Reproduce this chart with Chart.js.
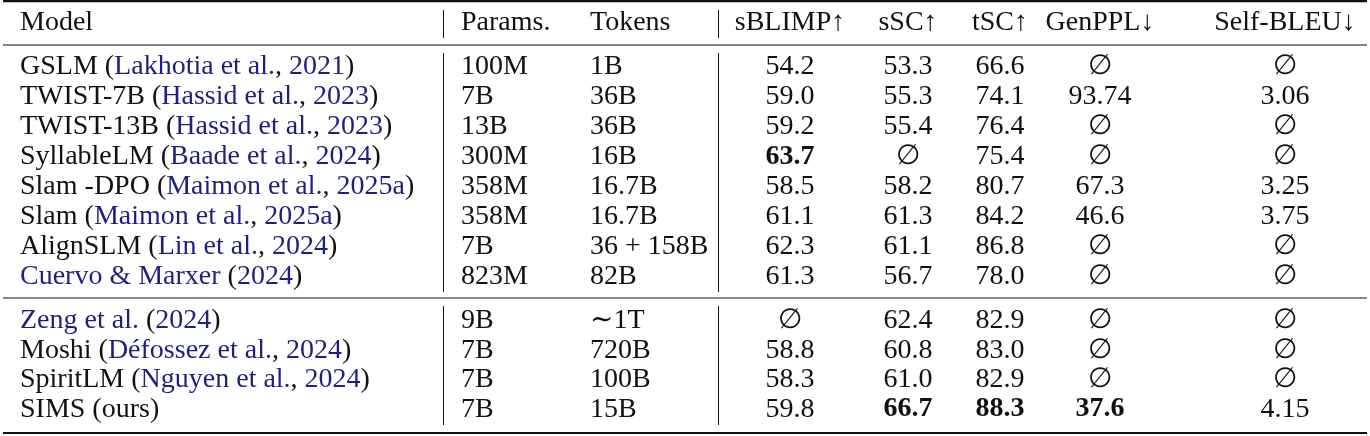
<!DOCTYPE html>
<html>
<head>
<meta charset="utf-8">
<script src="https://cdn.jsdelivr.net/npm/chart.js@4"></script>
<style>
  html, body { margin: 0; padding: 0; background: #fff; }
  #wrap { width: 1370px; height: 436px; }
</style>
</head>
<body>
<div id="wrap"><canvas id="tbl"></canvas></div>
<script>
// Table content
const headers = ['Model', 'Params.', 'Tokens', 'sBLIMP↑', 'sSC↑', 'tSC↑', 'GenPPL↓', 'Self-BLEU↓'];

// model name segments: [text, isCitation]
const models = [
    [['GSLM (', 0], ['Lakhotia et al.', 1], [', ', 0], ['2021', 1], [')', 0]],
    [['TWIST-7B (', 0], ['Hassid et al.', 1], [', ', 0], ['2023', 1], [')', 0]],
    [['TWIST-13B (', 0], ['Hassid et al.', 1], [', ', 0], ['2023', 1], [')', 0]],
    [['SyllableLM (', 0], ['Baade et al.', 1], [', ', 0], ['2024', 1], [')', 0]],
    [['Slam -DPO (', 0], ['Maimon et al.', 1], [', ', 0], ['2025a', 1], [')', 0]],
    [['Slam (', 0], ['Maimon et al.', 1], [', ', 0], ['2025a', 1], [')', 0]],
    [['AlignSLM (', 0], ['Lin et al.', 1], [', ', 0], ['2024', 1], [')', 0]],
    [['Cuervo & Marxer', 1], [' (', 0], ['2024', 1], [')', 0]],
    [['Zeng et al.', 1], [' (', 0], ['2024', 1], [')', 0]],
    [['Moshi (', 0], ['Défossez et al.', 1], [', ', 0], ['2024', 1], [')', 0]],
    [['SpiritLM (', 0], ['Nguyen et al.', 1], [', ', 0], ['2024', 1], [')', 0]],
    [['SIMS (ours)', 0]]
];

const params = ['100M', '7B', '13B', '300M', '358M', '358M', '7B', '823M', '9B', '7B', '7B', '7B'];
const tokens = ['1B', '36B', '36B', '16B', '16.7B', '16.7B', '36 + 158B', '82B', '∼1T', '720B', '100B', '15B'];
const sBLIMP = ['54.2', '59.0', '59.2', '63.7', '58.5', '61.1', '62.3', '61.3', '∅', '58.8', '58.3', '59.8'];
const sSC = ['53.3', '55.3', '55.4', '∅', '58.2', '61.3', '61.1', '56.7', '62.4', '60.8', '61.0', '66.7'];
const tSC = ['66.6', '74.1', '76.4', '75.4', '80.7', '84.2', '86.8', '78.0', '82.9', '83.0', '82.9', '88.3'];
const genPPL = ['∅', '93.74', '∅', '∅', '67.3', '46.6', '∅', '∅', '∅', '∅', '∅', '37.6'];
const selfBLEU = ['∅', '3.06', '∅', '∅', '3.25', '3.75', '∅', '∅', '∅', '∅', '∅', '4.15'];

// bold cells: [row, column]
const boldCells = [[3, 3], [11, 4], [11, 5], [11, 6]];

// Layout (pixels in the 1370x436 space)
const serif = '"Liberation Serif", "DejaVu Serif", serif';
const fontSize = 28;
const citeColor = '#1f1f82';
const colX = [20, 461, 590, 790, 908, 1000, 1100, 1285];
const colAlign = ['left', 'left', 'left', 'center', 'center', 'center', 'center', 'center'];
const headerY = 23;
const rowY = i => i < 8 ? 67 + i * 29.9 : 321 + (i - 8) * 29.4;

const tablePlugin = {
    id: 'tablePlugin',
    afterDraw(chart) {
        const ctx = chart.ctx;
        const xs = chart.scales.x, ys = chart.scales.y;
        const px = v => xs.getPixelForValue(v);
        const py = v => ys.getPixelForValue(v);
        ctx.save();
        ctx.textBaseline = 'middle';
        ctx.fillStyle = '#111';

        // rules
        ctx.strokeStyle = '#111';
        const hline = (y, w) => {
            ctx.lineWidth = w;
            ctx.beginPath();
            ctx.moveTo(px(3), py(y));
            ctx.lineTo(px(1367), py(y));
            ctx.stroke();
        };
        hline(1.2, 2.2);
        hline(45, 1.2);
        hline(298, 1.2);
        hline(433, 2.2);
        const vline = (x, y0, y1) => {
            ctx.lineWidth = 1;
            ctx.beginPath();
            ctx.moveTo(px(x), py(y0));
            ctx.lineTo(px(x), py(y1));
            ctx.stroke();
        };
        [443.5, 718.5].forEach(x => {
            vline(x, 10, 38);
            vline(x, 53, 292);
            vline(x, 306, 425);
        });

        // header
        ctx.font = fontSize + 'px ' + serif;
        headers.forEach((h, c) => {
            ctx.textAlign = colAlign[c];
            ctx.fillText(h, px(colX[c]), py(headerY));
        });

        // body
        const cols = [null, params, tokens, sBLIMP, sSC, tSC, genPPL, selfBLEU];
        models.forEach((segs, r) => {
            const y = py(rowY(r));
            ctx.textAlign = 'left';
            ctx.font = fontSize + 'px ' + serif;
            let x = px(colX[0]);
            segs.forEach(([t, cite]) => {
                ctx.fillStyle = cite ? citeColor : '#111';
                ctx.fillText(t, x, y);
                x += ctx.measureText(t).width;
            });
            ctx.fillStyle = '#111';
            for (let c = 1; c < cols.length; c++) {
                const bold = boldCells.some(([br, bc]) => br === r && bc === c);
                ctx.font = (bold ? 'bold ' : '') + fontSize + 'px ' + serif;
                ctx.textAlign = colAlign[c];
                ctx.fillText(cols[c][r], px(colX[c]), y);
            }
        });
        ctx.restore();
    }
};

new Chart(document.getElementById('tbl'), {
    type: 'scatter',
    data: { datasets: [{ data: [] }] },
    options: {
        responsive: true,
        maintainAspectRatio: false,
        animation: false,
        layout: { padding: 0 },
        plugins: { legend: { display: false }, tooltip: { enabled: false } },
        scales: {
            x: { type: 'linear', min: 0, max: 1370, display: false },
            y: { type: 'linear', min: 0, max: 436, reverse: true, display: false }
        }
    },
    plugins: [tablePlugin]
});
</script>
</body>
</html>
